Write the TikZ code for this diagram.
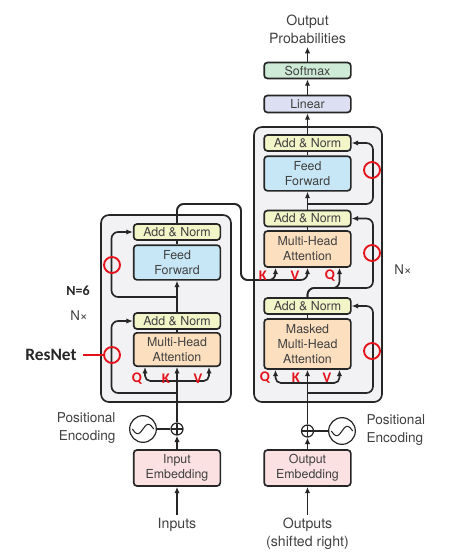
\documentclass[tikz,border=0pt]{standalone}
\usepackage{fontspec}
\setmainfont{TeX Gyre Heros}
\newfontfamily\notefont{Carlito}
\usetikzlibrary{arrows.meta, positioning}
\definecolor{addnormfill}{HTML}{F2F5C8}
\definecolor{fffill}{HTML}{C8E7F6}
\definecolor{attnfill}{HTML}{FCDFBE}
\definecolor{linearfill}{HTML}{DDE0F3}
\definecolor{softmaxfill}{HTML}{CDEBD6}
\definecolor{embedfill}{HTML}{FCE1E2}
\definecolor{stackfill}{HTML}{F2F2F4}
\definecolor{markred}{HTML}{E3121B}
\tikzset{>={Latex[length=4.8pt,width=4pt]},
  every path/.style={line width=1.25pt},
  layerbox/.style = {draw=black!85, line width=1.25pt, rounded corners=2.5pt,
    minimum width=65pt, inner sep=0pt, align=center, text=black!75,
    font=\fontsize{9.3}{11.3}\selectfont},
  addnorm/.style = {layerbox, fill=addnormfill, minimum height=12pt},
  ffbox/.style = {layerbox, fill=fffill, minimum height=26pt},
  attnbox/.style = {layerbox, fill=attnfill},
  embedbox/.style = {layerbox, fill=embedfill, minimum height=27pt},
  stackbox/.style = {draw=black!85, line width=1.25pt, fill=stackfill,
    rounded corners=6pt, inner sep=0pt},
  addsym/.style = {circle, draw=black!85, line width=0.9pt, minimum size=9pt,
    inner sep=0pt, path picture={\draw[line width=0.8pt]
      (path picture bounding box.north) -- (path picture bounding box.south)
      (path picture bounding box.west) -- (path picture bounding box.east);}},
  wavesym/.style = {circle, draw=black!85, line width=0.9pt, minimum size=20pt,
    inner sep=0pt, path picture={\draw[line width=0.8pt,
      shift={(path picture bounding box.center)}]
      plot[domain=-1:1, samples=30, smooth] ({8pt*\x}, {3.5pt*sin(180*\x)});}},
  plaintext/.style = {text=black!75, align=center, inner sep=2pt,
    font=\fontsize{10.6}{13.5}\selectfont},
  resmark/.style = {circle, draw=markred, line width=1.4pt, minimum size=12pt,
    inner sep=0pt},
  qkv/.style = {text=markred, inner sep=0pt, font=\notefont\bfseries\fontsize{11}{12}\selectfont},
  notetext/.style = {text=black!85, inner sep=0pt, font=\notefont\bfseries}}

\begin{document}
\begin{tikzpicture}[x=0.75pt, y=-0.75pt, color=black!85]
\useasboundingbox (0,0) rectangle (474,560);

% stacks
\node[stackbox, minimum width=97.5pt, minimum height=140.25pt] (encstack) at (166,308.5) {};
\node[stackbox, minimum width=96pt, minimum height=206.25pt] (decstack) at (318,264.5) {};

% encoder
\node[embedbox] (inemb) at (177,468) {Input\\Embedding};
\node[addsym] (inplus) at (177,429) {};
\node[wavesym] (inwave) at (143,429) {};
\node[attnbox, minimum height=25pt] (encmha) at (177,349.5) {Multi-Head\\Attention};
\node[addnorm] (encan1) at (177,321) {Add \& Norm};
\node[ffbox] (encff) at (177,262.5) {Feed\\Forward};
\node[addnorm] (encan2) at (177,232) {Add \& Norm};

% decoder
\node[embedbox] (outemb) at (307.5,468) {Output\\Embedding};
\node[addsym] (outplus) at (307.5,431) {};
\node[wavesym] (outwave) at (342,431) {};
\node[attnbox, minimum height=37.5pt] (decmmha) at (307.5,344) {Masked\\Multi-Head\\Attention};
\node[addnorm] (decan1) at (307.5,306) {Add \& Norm};
\node[attnbox, minimum height=27pt] (decmha) at (307.5,249) {Multi-Head\\Attention};
\node[addnorm] (decan2) at (307.5,218.5) {Add \& Norm};
\node[ffbox] (decff) at (307.5,173.5) {Feed\\Forward};
\node[addnorm] (decan3) at (307.5,143) {Add \& Norm};
\node[layerbox, fill=linearfill, minimum height=12.75pt] (linear) at (307.5,104) {Linear};
\node[layerbox, fill=softmaxfill, minimum height=12pt] (softmax) at (307.5,70.5) {Softmax};

% texts
\node[plaintext] (outprob) at (307.5,29) {Output\\Probabilities};
\node[plaintext] (inputs) at (177,525) {Inputs};
\node[plaintext] (outputs) at (307.5,534) {Outputs\\(shifted right)};
\node[plaintext, align=right, anchor=east, font=\fontsize{10.2}{13.5}\selectfont] (inpos) at (119,428) {Positional\\Encoding};
\node[plaintext, align=left, anchor=west, font=\fontsize{10.2}{13.5}\selectfont] (outpos) at (363,430) {Positional\\Encoding};
\node[plaintext, font=\fontsize{10}{12}\selectfont] (encnx) at (79,316) {N×};
\node[plaintext, font=\fontsize{10}{12}\selectfont] (decnx) at (403,270) {N×};
\node[notetext, font=\notefont\bfseries\fontsize{10.5}{12}\selectfont] (nsix) at (78,291) {N=6};
\node[notetext, font=\notefont\bfseries\fontsize{13}{15}\selectfont] (resnet) at (51,355) {ResNet};

% encoder connectors
\coordinate (encfork) at (177,381);
\coordinate (encq) at ([xshift=-24pt]encmha.south);
\coordinate (encv) at ([xshift=24pt]encmha.south);
\coordinate (encres1) at (177,393);
\coordinate (encres2) at (177,297);
\draw[->] (inemb) -- (inplus);
\draw (inwave) -- (inplus);
\draw[->] (inplus) -- (encmha);
\draw[->, rounded corners=4pt] (encfork) -| (encq);
\draw[->, rounded corners=4pt] (encfork) -| (encv);
\draw[->, rounded corners=5pt] (encres1) -| ([xshift=-16pt]encan1.west) -- (encan1.west);
\draw (encmha) -- (encan1);
\draw[->] (encan1) -- (encff);
\draw[->, rounded corners=5pt] (encres2) -| ([xshift=-16pt]encan2.west) -- (encan2.west);
\draw (encff) -- (encan2);

% encoder to decoder
\coordinate (memtop) at (241,204);
\coordinate (memfork) at (241,280);
\coordinate (deck) at ([xshift=-24pt]decmha.south);
\draw[->, rounded corners=5pt] (encan2.north) |- (memtop) -- (memfork) -| (deck);
\draw[->, rounded corners=5pt] (encan2.north) |- (memtop) -- (memfork) -| (decmha.south);

% decoder connectors
\coordinate (decfork) at (307.5,383);
\coordinate (decq1) at ([xshift=-24pt]decmmha.south);
\coordinate (decv1) at ([xshift=24pt]decmmha.south);
\coordinate (decres1) at (307.5,393);
\coordinate (decfork2) at (307.5,288);
\coordinate (decq2) at ([xshift=24pt]decmha.south);
\coordinate (decres3) at (307.5,204);
\draw[->] (outemb) -- (outplus);
\draw (outwave) -- (outplus);
\draw[->] (outplus) -- (decmmha);
\draw[->, rounded corners=4pt] (decfork) -| (decq1);
\draw[->, rounded corners=4pt] (decfork) -| (decv1);
\draw[->, rounded corners=5pt] (decres1) -| ([xshift=16pt]decan1.east) -- (decan1.east);
\draw (decmmha) -- (decan1);
\draw[->, rounded corners=5pt] (decan1.north) -- (decfork2) -| (decq2);
\draw[->, rounded corners=5pt] (decan1.north) -- (decfork2) -| ([xshift=16pt]decan2.east) -- (decan2.east);
\draw (decmha) -- (decan2);
\draw[->] (decan2) -- (decff);
\draw[->, rounded corners=5pt] (decres3) -| ([xshift=16pt]decan3.east) -- (decan3.east);
\draw (decff) -- (decan3);
\draw[->] (decan3) -- (linear);
\draw[->] (linear) -- (softmax);
\draw[->] (softmax) -- (outprob);
\draw[->] (inputs) -- (inemb);
\draw[->] (outputs) -- (outemb);

% Q K V labels
\node[qkv] (encqlab) at (137,379) {Q};
\node[qkv] (encklab) at (166,379) {K};
\node[qkv] (encvlab) at (198,379) {V};
\node[qkv] (dec1qlab) at (265,378) {Q};
\node[qkv] (dec1klab) at (296,378) {K};
\node[qkv] (dec1vlab) at (327,378) {V};
\node[qkv] (dec2klab) at (263,276) {K};
\node[qkv] (dec2vlab) at (295,276) {V};
\node[qkv] (dec2qlab) at (330,276) {Q};

% residual marks
\node[resmark] (encmark1) at (112,265) {};
\node[resmark] (encmark2) at (112,355) {};
\node[resmark] (decmark1) at (372,170) {};
\node[resmark] (decmark2) at (372,253) {};
\node[resmark] (decmark3) at (372,351) {};
\draw[markred, line width=1.4pt, shorten <=4pt] (resnet.east) -- (encmark2.west);
\end{tikzpicture}
\end{document}
